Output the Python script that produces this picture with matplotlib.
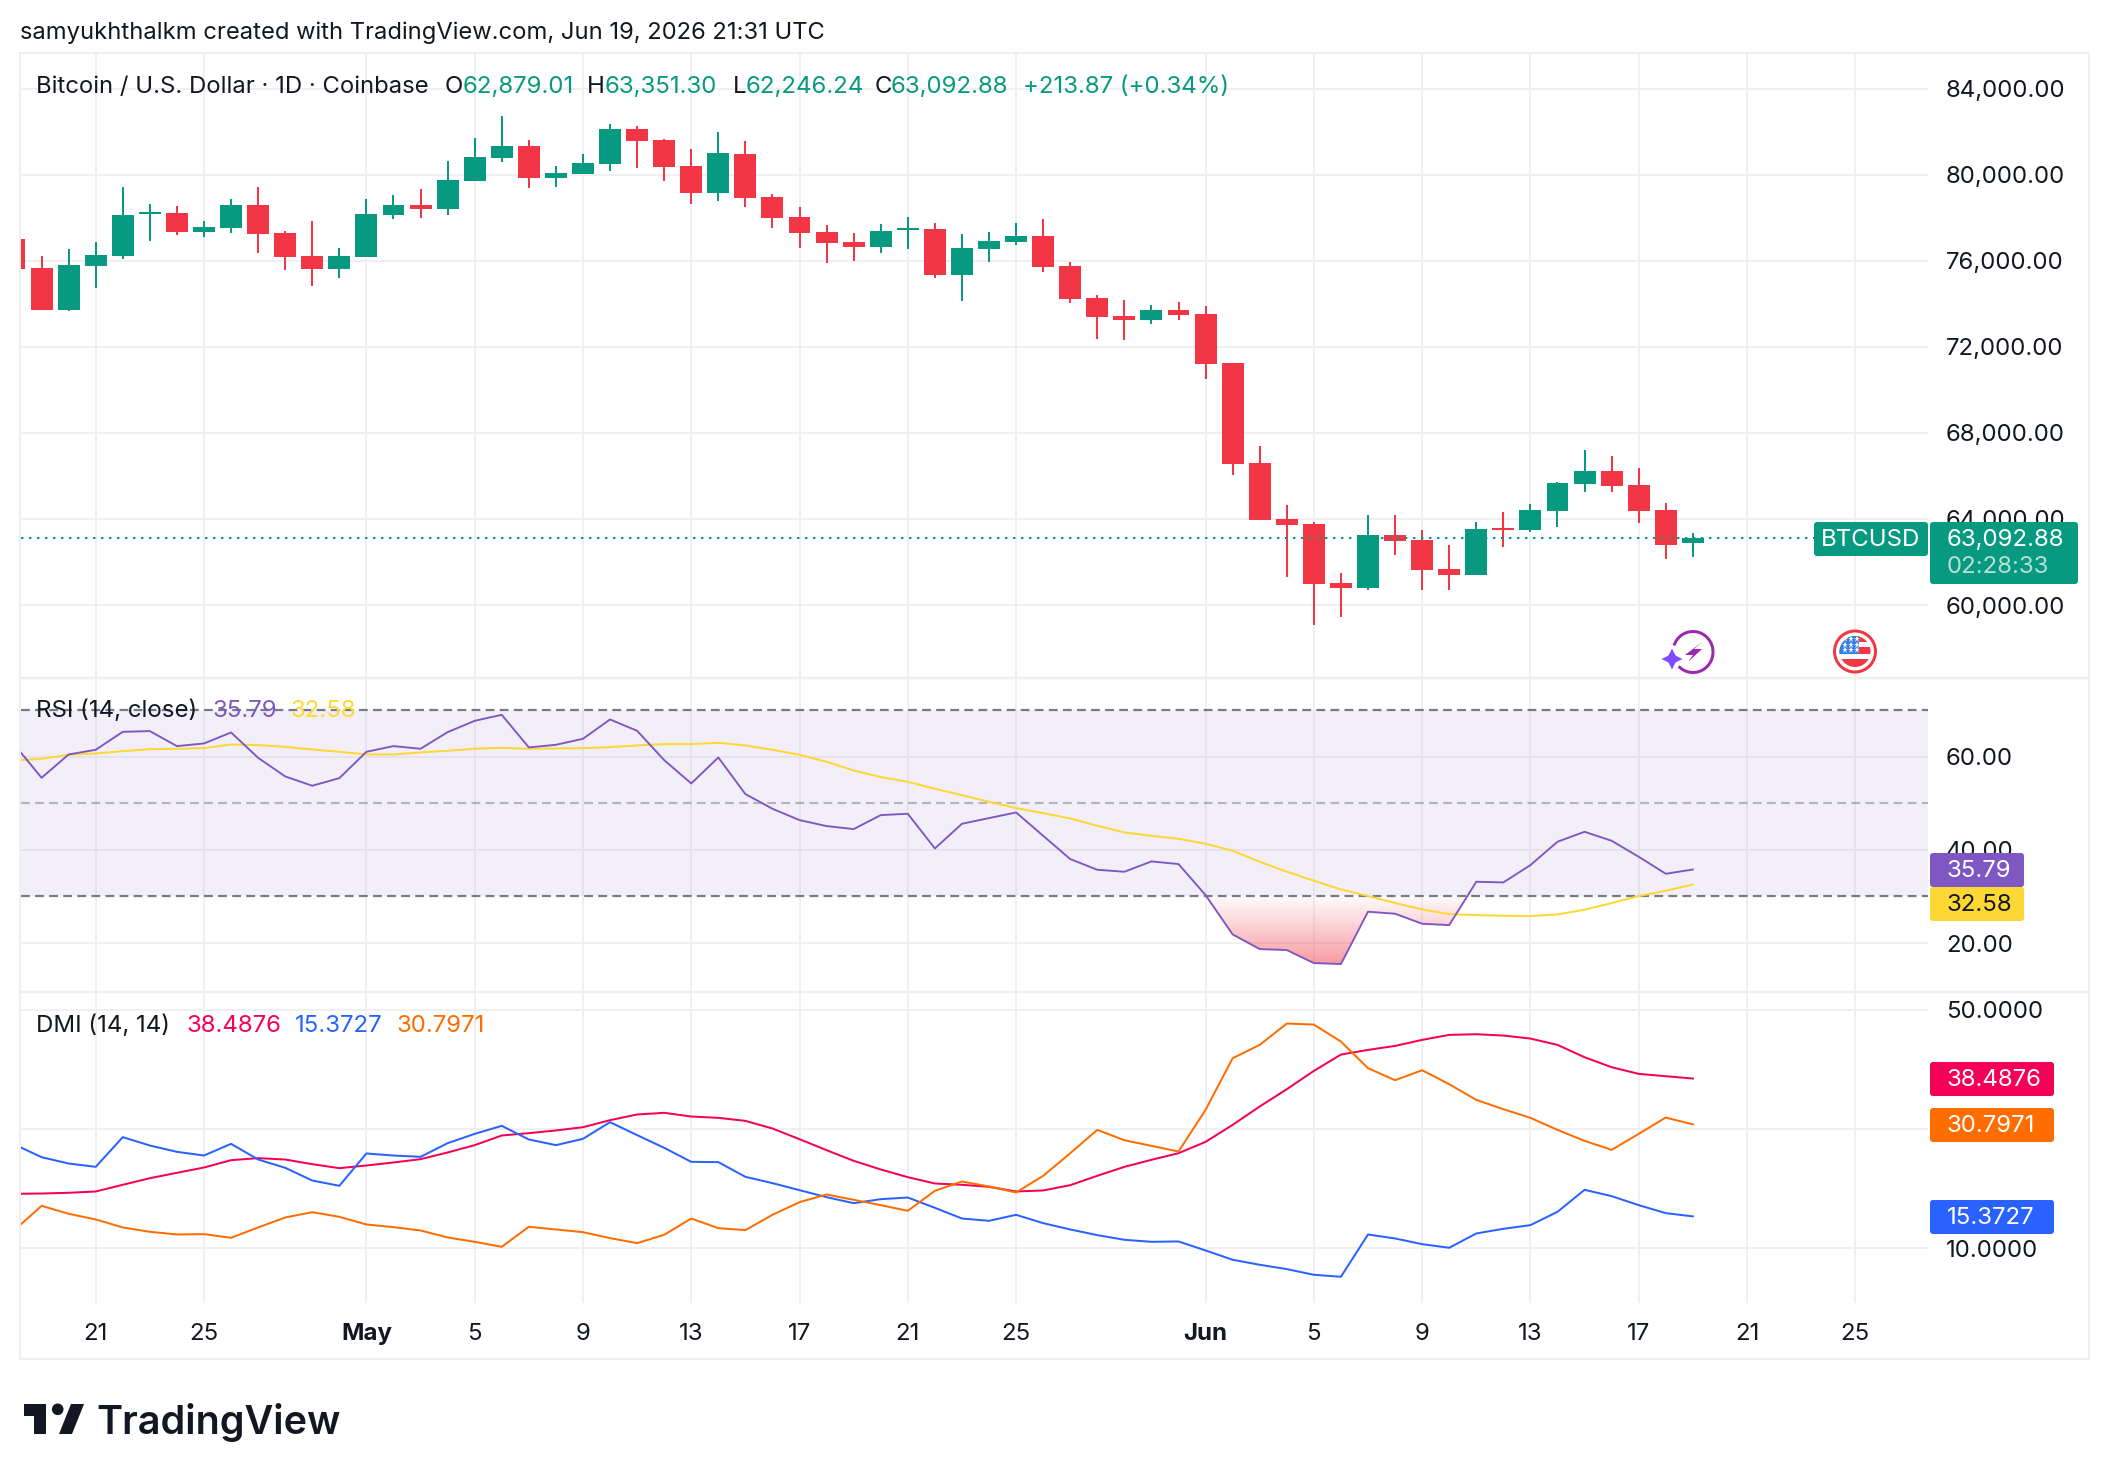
import numpy as np
import matplotlib
matplotlib.use("Agg")
import matplotlib.pyplot as plt
from matplotlib.colors import LinearSegmentedColormap
from matplotlib.patches import Circle, FancyBboxPatch, Polygon, Rectangle, Arc
from matplotlib.lines import Line2D

plt.rcParams['font.family'] = ['Inter', 'DejaVu Sans']

# BTCUSD daily candles, Apr 18 to Jun 19
opens = [77015, 75667, 73714, 75760, 76225, 78177, 78224, 77341, 77527, 78596, 77294, 76225, 75620,
         76178, 78131, 78596, 78410, 79712, 80781, 81339, 79851, 80037, 80502, 82129, 81618, 80409,
         79154, 80967, 78968, 78038, 77341, 76876, 76643, 77434, 77480, 75342, 76550, 76876, 77155,
         75760, 74272, 73435, 73249, 73714,
         73529, 71251, 66601, 63998, 63765, 61022, 60790, 63254, 63022, 61674, 61395, 63580, 63487,
         64370, 65625, 66230, 65579, 64417, 62879.01]
highs = [77200, 76225, 76550, 76876, 79433, 78642, 78549, 77852, 78875, 79433, 77387, 77852, 76597,
         78875, 79061, 79340, 80641, 81711, 82734, 81618, 80409, 80967, 82362, 82269, 81664, 81200,
         82000, 81571, 79107, 78503, 77666, 77294, 77713, 78038, 77759, 77248, 77341, 77759, 77945,
         75946, 74412, 74179, 73947, 74086,
         73900, 71251, 67392, 64649, 63859, 61487, 64184, 64184, 63487, 62790, 63859, 64324, 64696,
         65719, 67206, 66927, 66369, 64742, 63351.30]
lows = [75500, 73714, 73668, 74737, 76085, 76922, 77201, 77108, 77294, 76364, 75574, 74830, 75202,
        76178, 77945, 77992, 78131, 79712, 80595, 79386, 79433, 80037, 80177, 80316, 79712, 78642,
        78782, 78503, 77527, 76597, 75900, 75992, 76364, 76550, 75202, 74133, 75946, 76736, 75481,
        74040, 72366, 72320, 73063, 73249,
        70507, 66043, 63951, 61301, 59070, 59442, 60697, 62325, 60697, 60697, 61395, 62697, 63394,
        63626, 65254, 65254, 63812, 62139, 62246.24]
closes = [75620, 73714, 75806, 76271, 78131, 78270, 77341, 77573, 78596, 77248, 76178, 75620, 76225,
          78177, 78596, 78410, 79758, 80827, 81339, 79851, 80084, 80548, 82129, 81571, 80362, 79154,
          81014, 78921, 77992, 77294, 76829, 76643, 77387, 77527, 75342, 76597, 76922, 77155, 75714,
          74226, 73389, 73249, 73714, 73482,
          71204, 66555, 63951, 63719, 60976, 60790, 63254, 62975, 61627, 61395, 63533, 63487, 64417,
          65672, 66230, 65533, 64370, 62790, 63092.88]

rsi = [62.56, 55.48, 60.49, 61.49, 65.35, 65.50, 62.28, 62.85, 65.21, 59.77, 55.77, 53.77, 55.41,
       61.06, 62.28, 61.71, 65.28, 67.71, 69.00, 62.00, 62.56, 63.85, 68.00, 65.57, 59.27, 54.27,
       59.84, 51.98, 48.83, 46.40, 45.11, 44.47, 47.47, 47.76, 40.31, 45.61, 46.83, 48.04, 43.03,
       38.03, 35.74, 35.31, 37.53, 36.96,
       30.30, 21.86, 18.71, 18.50, 15.71, 15.50, 26.73, 26.30, 24.15, 23.86, 33.16, 33.02, 36.74,
       41.75, 43.89, 41.96, 38.53, 34.88, 35.79]
rsi_ma = [59.20, 59.56, 60.42, 60.70, 61.20, 61.63, 61.70, 61.85, 62.63, 62.49, 62.13, 61.56, 61.06,
          60.49, 60.49, 60.92, 61.28, 61.71, 61.92, 61.71, 61.78, 61.85, 62.06, 62.42, 62.71, 62.71,
          63.00, 62.42, 61.49, 60.42, 58.92, 57.06, 55.62, 54.62, 53.12, 51.76, 50.33, 48.97, 47.90,
          46.76, 45.18, 43.75, 43.03, 42.39,
          41.32, 39.82, 37.46, 35.31, 33.38, 31.52, 30.09, 28.59, 27.23, 26.22, 26.01, 25.87, 25.80,
          26.15, 27.16, 28.59, 30.09, 31.23, 32.58]

adx = [19.16, 19.21, 19.33, 19.55, 20.67, 21.78, 22.68, 23.57, 24.80, 25.14, 24.91, 24.13, 23.46,
       23.91, 24.41, 24.97, 26.09, 27.32, 28.94, 29.33, 29.78, 30.33, 31.51, 32.46, 32.74, 32.12,
       31.90, 31.39, 30.11, 28.32, 26.48, 24.69, 23.24, 21.95, 20.89, 20.67, 20.33, 19.55, 19.72,
       20.61, 22.18, 23.68, 24.86, 25.97,
       27.87, 30.72, 33.80, 36.70, 39.77, 42.51, 43.29, 43.96, 44.97, 45.81, 45.92, 45.70, 45.19,
       44.13, 42.06, 40.39, 39.27, 38.88, 38.4876]
plus_di = [27.43, 25.30, 24.24, 23.68, 28.66, 27.26, 26.20, 25.58, 27.54, 24.91, 23.52, 21.39, 20.50,
           25.92, 25.58, 25.36, 27.65, 29.21, 30.56, 28.27, 27.32, 28.38, 31.17, 29.00, 26.87, 24.52,
           24.47, 22.01, 20.95, 19.77, 18.60, 17.59, 18.26, 18.54, 16.81, 15.02, 14.63, 15.64, 14.24,
           13.18, 12.23, 11.45, 11.11, 11.17,
           9.66, 8.10, 7.26, 6.53, 5.58, 5.25, 12.34, 11.67, 10.72, 10.11, 12.51, 13.29, 13.91,
           16.14, 19.83, 18.77, 17.26, 15.92, 15.3727]
minus_di = [13.07, 17.15, 15.81, 14.86, 13.52, 12.79, 12.34, 12.40, 11.78, 13.52, 15.19, 16.08, 15.30,
            14.02, 13.57, 13.01, 11.84, 11.11, 10.27, 13.63, 13.18, 12.73, 11.73, 10.89, 12.29, 15.02,
            13.40, 13.07, 15.64, 17.76, 19.05, 18.15, 17.26, 16.31, 19.66, 21.22, 20.39, 19.38, 22.17,
            25.97, 29.88, 28.15, 27.20, 26.25,
            33.24, 41.90, 44.13, 47.71, 47.54, 44.69, 40.22, 38.21, 39.88, 37.54, 34.91, 33.35, 31.90,
            29.88, 28.04, 26.53, 29.21, 31.95, 30.7971]

# day positions of the date axis (0 = Apr 18)
tick_pos = [3, 7, 13, 17, 21, 25, 29, 33, 37, 44, 48, 52, 56, 60, 64, 68]
tick_labels = ['21', '25', 'May', '5', '9', '13', '17', '21', '25', 'Jun', '5', '9', '13', '17', '21', '25']
price_ticks = [60000, 64000, 68000, 72000, 76000, 80000, 84000]
rsi_ticks = [20, 40, 60]
dmi_ticks = [10, 30, 50]

W, H = 2108, 1480
UP = '#089981'
DOWN = '#F23645'
GRID = '#F0F0F2'
INK = '#131722'
PX = 0.72  # one pixel in points at dpi 100
LABEL = 17.3

fig = plt.figure(figsize=(W / 100, H / 100), dpi=100, facecolor='white')
x = np.arange(len(closes))
days_per_px = 1 / 27.07
xlim = ((20.5 - 14.5) * days_per_px, (1928 - 14.5) * days_per_px)


def make_pane(top, bottom, ylim, yticks, ylabels):
    ax = fig.add_axes([20.5 / W, 1 - bottom / H, (1928 - 20.5) / W, (bottom - top) / H])
    ax.set_xlim(xlim)
    ax.set_ylim(ylim)
    ax.set_xticks(tick_pos)
    ax.set_yticks(yticks)
    ax.set_yticklabels(ylabels)
    ax.yaxis.tick_right()
    ax.tick_params(axis='y', length=0, pad=18 * PX, labelsize=LABEL, labelcolor=INK)
    ax.tick_params(axis='x', length=0, labelbottom=False)
    ax.grid(True, color=GRID, lw=2 * PX, zorder=0)
    ax.set_axisbelow(True)
    for s in ax.spines.values():
        s.set_visible(False)
    ax.patch.set_alpha(0)
    return ax


# price pane
ax1 = make_pane(53, 678, (56606, 85665), price_ticks, [f'{t:,.2f}' for t in price_ticks])
colors = [UP if c >= o else DOWN for o, c in zip(opens, closes)]
ax1.vlines(x, lows, highs, colors=colors, lw=2 * PX, zorder=3)
ax1.bar(x, np.abs(np.array(closes) - np.array(opens)), bottom=np.minimum(opens, closes),
        width=0.81, color=colors, zorder=4, linewidth=0)
ax1.plot([xlim[0], (1814 - 14.5) * days_per_px], [closes[-1]] * 2, color=UP, lw=2 * PX,
         linestyle=(0, (1.2, 2.8)), zorder=5, dash_capstyle='butt')

# RSI pane
ax2 = make_pane(678, 992, (9.5, 76.9), rsi_ticks, [f'{t:.2f}' for t in rsi_ticks])
ax2.axhspan(30, 70, color='#7E57C2', alpha=0.09, lw=0, zorder=1)
ax2.axhline(70, color='#787B86', lw=2.2 * PX, linestyle=(0, (4, 2.4)), zorder=2)
ax2.axhline(50, color='#787B86', alpha=0.5, lw=2.2 * PX, linestyle=(0, (4, 2.4)), zorder=2)
ax2.axhline(30, color='#787B86', lw=2.2 * PX, linestyle=(0, (4, 2.4)), zorder=2)
rsi_arr = np.array(rsi)
oversold = ax2.fill_between(x, rsi_arr, 30, where=rsi_arr < 30, interpolate=True, color='none', lw=0)
fade = LinearSegmentedColormap.from_list('fade', [(0.949, 0.212, 0.271, 0.5), (0.949, 0.212, 0.271, 0.02)])
grad = ax2.imshow(np.linspace(0, 1, 256).reshape(-1, 1), cmap=fade, aspect='auto', origin='lower',
                  extent=(x[0], x[-1], rsi_arr.min(), 30), zorder=2)
grad.set_clip_path(oversold.get_paths()[0], transform=ax2.transData)
ax2.set_xlim(xlim)
ax2.set_ylim(9.5, 76.9)
ax2.plot(x, rsi_ma, color='#FDD835', lw=2 * PX, zorder=3)
ax2.plot(x, rsi, color='#7E57C2', lw=1.9 * PX, zorder=4)

# DMI pane
ax3 = make_pane(992, 1303, (0.85, 53.0), dmi_ticks, ['10.0000', '', '50.0000'])
ax3.plot(x, adx, color='#F50057', lw=2 * PX, zorder=3)
ax3.plot(x, plus_di, color='#2962FF', lw=2 * PX, zorder=3)
ax3.plot(x, minus_di, color='#FF6D00', lw=2 * PX, zorder=3)
ax3.set_xticklabels(tick_labels)
ax3.tick_params(axis='x', labelbottom=True, pad=20 * PX, labelsize=LABEL, labelcolor=INK)
for lab in ax3.get_xticklabels():
    if lab.get_text() in ('May', 'Jun'):
        lab.set_fontweight('bold')

# overlay in pixel coordinates for the frame, legends, tags and logo
ov = fig.add_axes([0, 0, 1, 1], zorder=10)
ov.set_xlim(0, W)
ov.set_ylim(H, 0)
ov.axis('off')
ov.patch.set_alpha(0)

FRAME = '#EFEFEF'
ov.add_patch(Rectangle((20, 53), 2069, 1306, fill=False, ec=FRAME, lw=2 * PX))
ov.add_line(Line2D([20, 2089], [678, 678], color=FRAME, lw=2.4 * PX))
ov.add_line(Line2D([20, 2089], [992, 992], color=FRAME, lw=2.4 * PX))


def label(px, py, s, color=INK, size=LABEL, **kw):
    ov.text(px, py + 1.2, s, color=color, fontsize=size, va='center', ha=kw.pop('ha', 'left'), **kw)


def tag(x0, x1, y0, y1, color):
    ov.add_patch(FancyBboxPatch((x0 + 3, y0 + 3), x1 - x0 - 6, y1 - y0 - 6,
                                boxstyle='round,pad=3,rounding_size=3', fc=color, ec='none'))


label(20, 32, 'samyukhthalkm created with TradingView.com, Jun 19, 2026 21:31 UTC', size=17.1)

label(36.5, 86, 'Bitcoin / U.S. Dollar · 1D · Coinbase', size=17.2)
for px, letter, vx, val in [(445, 'O', 462.6, '62,879.01'), (587, 'H', 605, '63,351.30'),
                            (733, 'L', 746, '62,246.24'), (874.6, 'C', 891, '63,092.88')]:
    label(px, 86, letter)
    label(vx, 86, val, color=UP)
label(1023, 86, '+213.87 (+0.34%)', color=UP)

label(36.5, 710, 'RSI (14, close)')
label(212, 710, '35.79', color='#7E57C2')
label(290, 710, '32.58', color='#FDD835')

label(36.5, 1025, 'DMI (14, 14)')
label(187, 1025, '38.4876', color='#F50057')
label(295, 1025, '15.3727', color='#2962FF')
label(397, 1025, '30.7971', color='#FF6D00')

# last value tags on the scales
tag(1814, 1928, 522, 556, UP)
label(1871, 539, 'BTCUSD', color='white', ha='center')
tag(1930, 2078, 522, 584, UP)
label(1946.5, 539, '63,092.88', color='white')
label(1946.5, 566, '02:28:33', color='#B5E0D8')

tag(1930, 2024, 853, 887, '#7E57C2')
label(1946.5, 870, '35.79', color='white')
tag(1930, 2024, 887, 921, '#FDD835')
label(1946.5, 904, '32.58', color=INK)

tag(1930, 2054, 1062, 1096, '#F50057')
label(1946.5, 1079, '38.4876', color='white')
tag(1930, 2054, 1108, 1142, '#FF6D00')
label(1946.5, 1125, '30.7971', color='white')
tag(1930, 2054, 1200, 1234, '#2962FF')
label(1946.5, 1217, '15.3727', color='white')

# event marks under the candles
ov.add_patch(Arc((1693, 652), 40, 41, theta1=199, theta2=135, color='#9C27B0', lw=3 * PX))
ov.add_patch(Polygon([(1702, 642), (1685, 655), (1693, 655), (1688, 662), (1702, 649), (1694, 649)],
                     fc='#9C27B0', ec='none'))
ov.add_patch(Polygon([(1672, 648.5), (1675.5, 655.5), (1682.5, 659), (1675.5, 662.5), (1672, 669.5),
                      (1668.5, 662.5), (1661.5, 659), (1668.5, 655.5)], fc='#7C4DFF', ec='none'))

ov.add_patch(Circle((1855, 651.5), 20.5, fc='white', ec='#F23645', lw=3 * PX))
flag_clip = Circle((1855, 651.5), 15.5, transform=ov.transData)
for y0, y1, col in [(635, 642, '#F23645'), (642, 647, 'white'), (647, 654, '#F23645'),
                    (654, 659, 'white'), (659, 668, '#F23645')]:
    r = Rectangle((1838, y0), 34, y1 - y0, fc=col, ec='none')
    ov.add_patch(r)
    r.set_clip_path(flag_clip)
canton = Rectangle((1838, 635), 21, 19, fc='#2F7DE1', ec='none')
ov.add_patch(canton)
canton.set_clip_path(flag_clip)
for sy in (639, 645, 650):
    ov.plot([1845, 1851, 1857], [sy] * 3, ls='none', marker='*', ms=4.5, color='white', mew=0)

# logo
ov.add_patch(Polygon([(24, 1404), (45.7, 1404), (45.7, 1434), (34, 1434), (34, 1416), (24, 1416)], fc=INK, ec='none'))
ov.add_patch(Circle((57.7, 1409.3), 5.8, fc=INK, ec='none'))
ov.add_patch(Polygon([(71, 1404), (84, 1404), (72, 1434), (59, 1434)], fc=INK, ec='none'))
ov.text(96.5, 1433.5, 'TradingView', color=INK, fontsize=28.5, fontweight='semibold', va='baseline', ha='left')

ov.set_xlim(0, W)
ov.set_ylim(H, 0)
fig.savefig('out.png', dpi=100, facecolor='white')
